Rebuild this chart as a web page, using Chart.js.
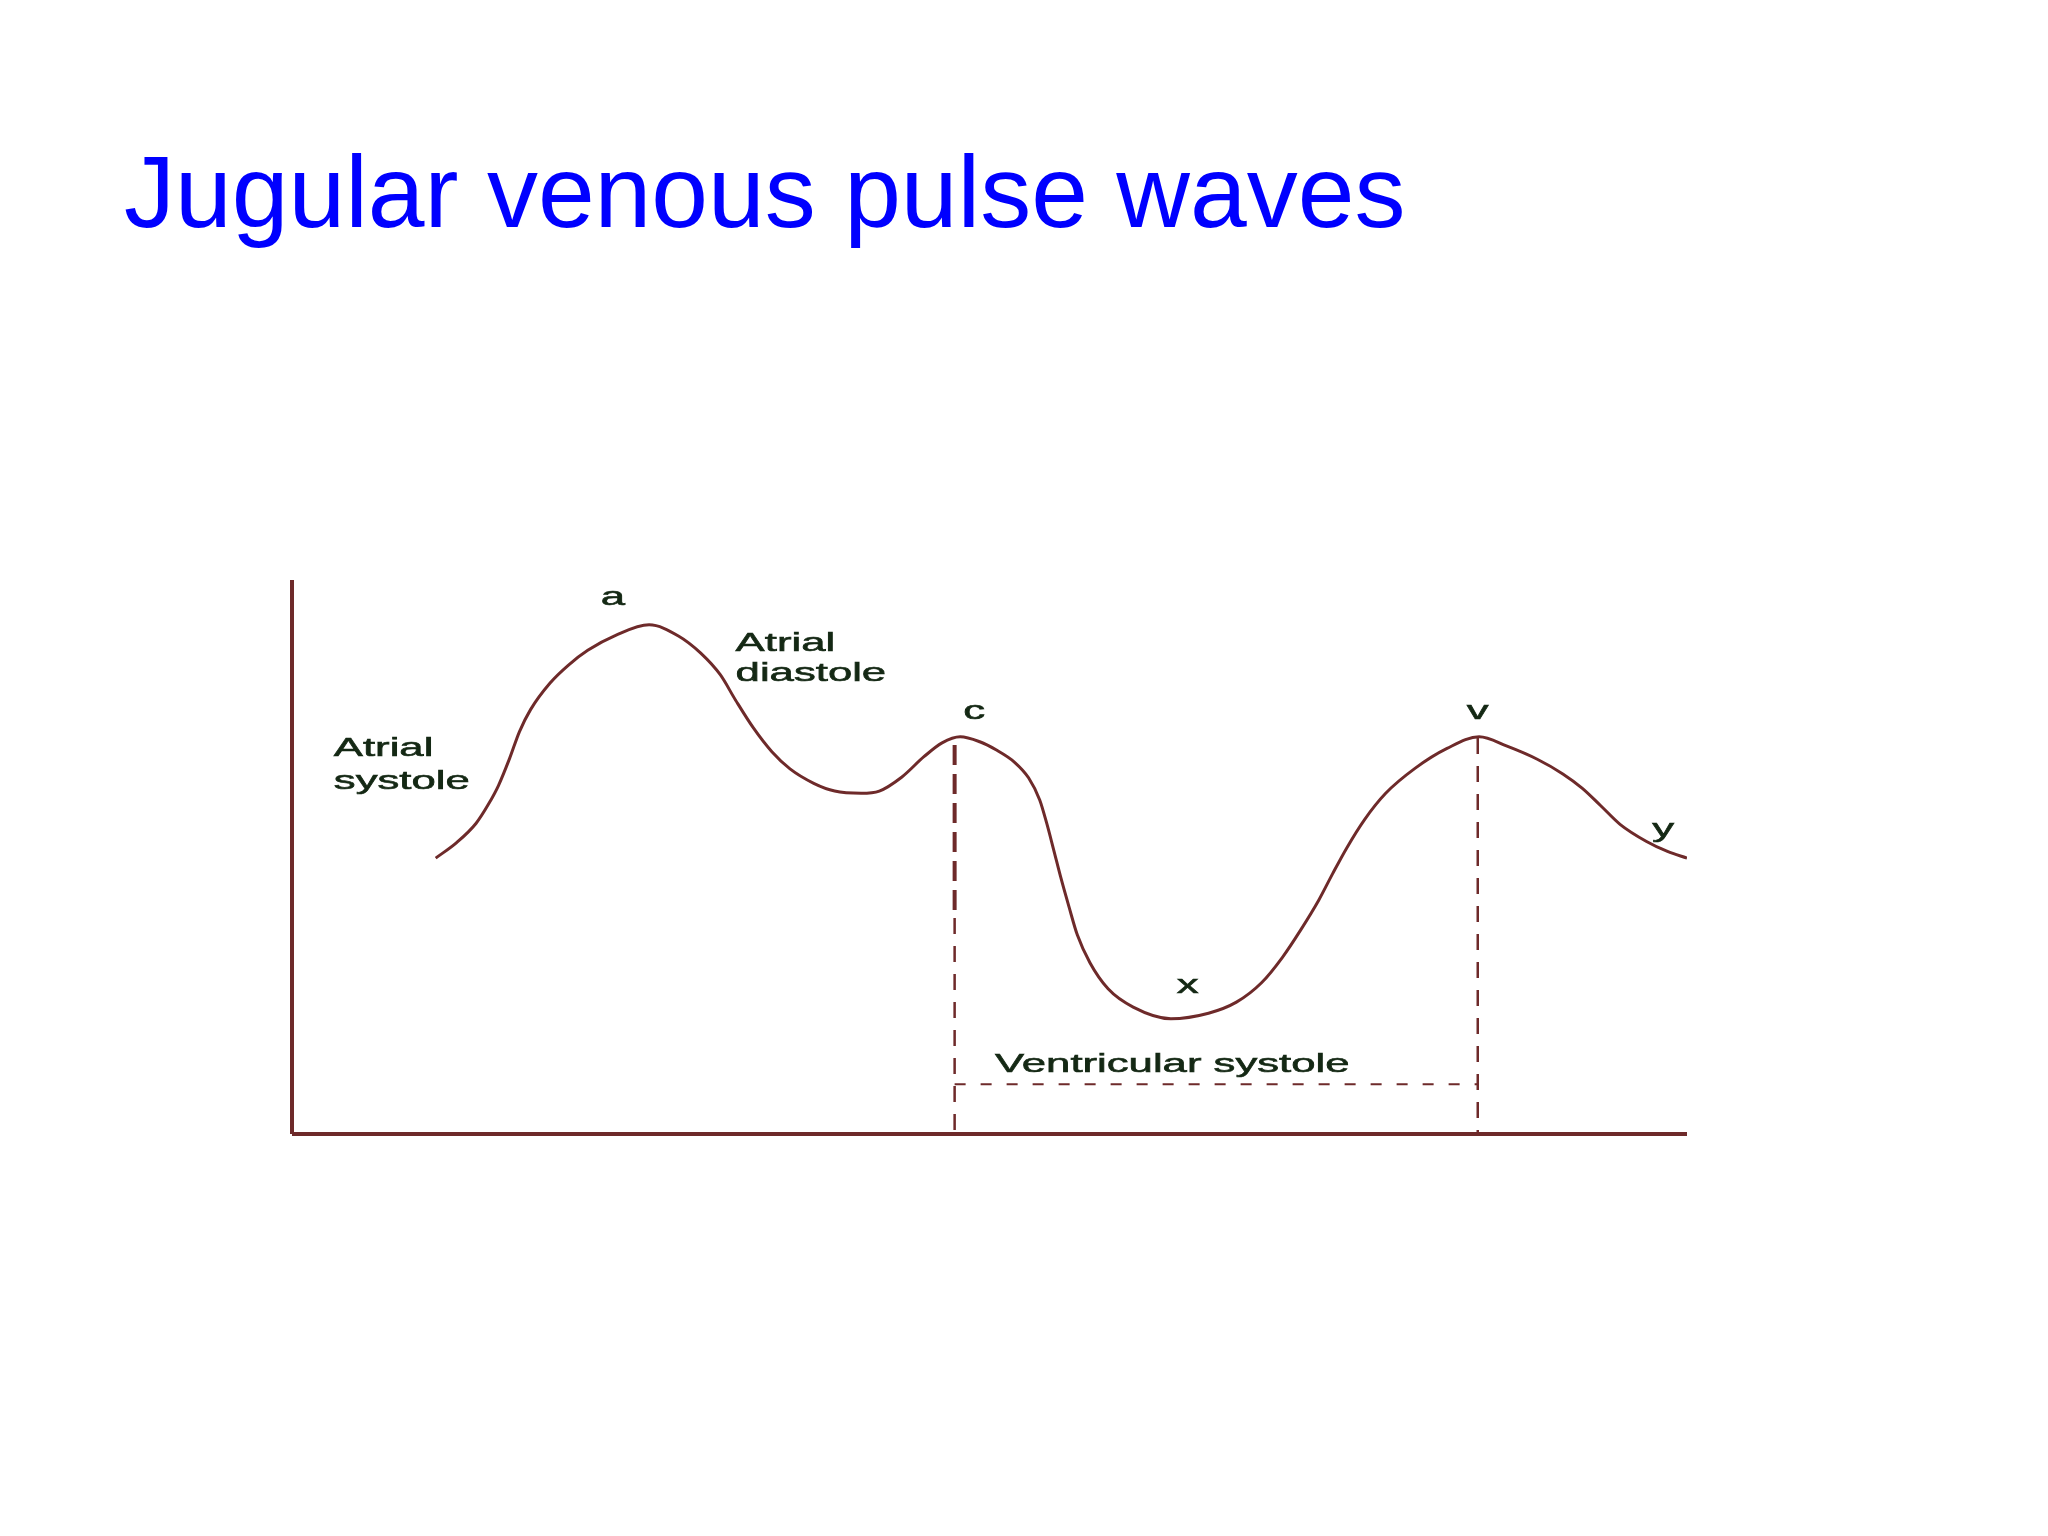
<!DOCTYPE html>
<html>
<head>
<meta charset="utf-8">
<title>Jugular venous pulse waves</title>
<script src="https://cdn.jsdelivr.net/npm/chart.js@4.4.1/dist/chart.umd.min.js"></script>
<style>
    html, body { margin: 0; padding: 0; background: #ffffff; }
    #wrap { position: relative; width: 2048px; height: 1536px; }
    #title {
        position: absolute; left: 124px; top: 141px; margin: 0;
        font-family: 'Liberation Sans', Arial, sans-serif; font-weight: normal;
        font-size: 102px; line-height: 102px; color: #0000ff; white-space: nowrap;
    }
</style>
</head>
<body>
<div id="wrap">
    <h1 id="title">Jugular venous pulse waves</h1>
    <canvas id="jvpChart"></canvas>
</div>
<script>
// wave trace (time 0-100, pressure 0-100)
const waveX = [10.3, 11.8, 13.2, 14.1, 14.8, 15.6, 16.3, 17.1, 18.5, 19.8, 21.2, 23.2, 25.6, 27.7, 29.3,
    30.7, 31.8, 33.1, 34.4, 35.7, 37.4, 38.9, 40.8, 42.1, 43.7, 45.3, 46.6, 47.9, 49.3, 50.5,
    51.8, 52.8, 53.6, 54.1, 54.6, 55.1, 55.7, 56.3, 57.2, 58.5, 60.3, 63.0, 65.7, 67.7, 69.5,
    71.0, 72.3, 73.6, 74.6, 75.6, 76.9, 78.4, 80.5, 82.8, 85.1, 87.1, 89.3, 91.1, 92.5, 93.8,
    95.2, 97.1, 98.6, 100];
const waveY = [49.8, 52.6, 56.1, 59.6, 62.9, 67.8, 72.6, 76.6, 81.4, 84.6, 87.3, 90.0, 91.9, 89.9, 86.8,
    82.9, 78.3, 73.2, 69.0, 65.9, 63.3, 61.9, 61.5, 61.9, 64.4, 68.1, 70.6, 71.7, 70.8, 69.3,
    67.1, 64.3, 60.3, 56.1, 51.3, 46.4, 41.0, 35.9, 30.9, 26.2, 22.9, 20.8, 21.8, 23.8, 27.3,
    31.9, 36.8, 42.2, 47.0, 51.6, 56.8, 61.5, 66.0, 69.6, 71.7, 70.0, 67.6, 65.0, 62.4, 59.3,
    55.9, 52.8, 51.0, 49.8];

// ventricular systole: start (c) and end (v) times
const systoleStart = 47.5;
const systoleEnd = 85.0;
const systoleTopC = 70.2;
const systoleMidC = 39.0;
const systoleTopV = 71.5;
const systoleBarY = 9.0;

// annotation labels
const labelText = ['a', 'Atrial', 'diastole', 'Atrial', 'systole', 'c', 'v', 'x', 'y', 'Ventricular systole'];
const labelX = [23.0, 31.8, 31.8, 3.0, 3.0, 48.9, 85.0, 64.2, 98.3, 50.4];
const labelY = [96.8, 88.4, 83.0, 69.5, 63.5, 76.2, 76.2, 26.7, 54.9, 12.5];
const labelAlign = ['center', 'left', 'left', 'left', 'left', 'center', 'center', 'center', 'center', 'left'];

const lineColor = '#6e2a2a';
const textColor = '#142814';

const toPoints = (xs, ys) => xs.map((x, i) => ({ x: x, y: ys[i] }));

const labelPlugin = {
    id: 'waveLabels',
    afterDatasetsDraw(chart) {
        const ctx = chart.ctx;
        const xs = chart.scales.x;
        const ys = chart.scales.y;
        ctx.save();
        ctx.fillStyle = textColor;
        ctx.strokeStyle = textColor;
        ctx.lineWidth = 0.6;
        ctx.font = '26px "Liberation Sans", Arial, sans-serif';
        ctx.textBaseline = 'middle';
        labelText.forEach((t, i) => {
            ctx.save();
            ctx.translate(xs.getPixelForValue(labelX[i]), ys.getPixelForValue(labelY[i]));
            ctx.scale(1.68, 1);
            ctx.textAlign = labelAlign[i];
            ctx.fillText(t, 0, 0);
            ctx.strokeText(t, 0, 0);
            ctx.restore();
        });
        ctx.restore();
    }
};

const ctx = document.getElementById('jvpChart').getContext('2d');
window.jvpChart = new Chart(ctx, {
    type: 'line',
    data: {
        datasets: [
            {
                label: 'y axis',
                data: toPoints([0, 0], [0, 100]),
                borderColor: lineColor,
                borderWidth: 4,
                pointRadius: 0,
                clip: false
            },
            {
                label: 'x axis',
                data: toPoints([0, 100], [0, 0]),
                borderColor: lineColor,
                borderWidth: 4,
                pointRadius: 0,
                clip: false
            },
            {
                label: 'c marker (upper)',
                data: toPoints([systoleStart, systoleStart], [systoleTopC, systoleMidC]),
                borderColor: lineColor,
                borderWidth: 4,
                borderDash: [20, 9],
                pointRadius: 0
            },
            {
                label: 'c marker (lower)',
                data: toPoints([systoleStart, systoleStart], [systoleMidC, 0]),
                borderColor: lineColor,
                borderWidth: 2.5,
                borderDash: [16, 12],
                pointRadius: 0
            },
            {
                label: 'v marker',
                data: toPoints([systoleEnd, systoleEnd], [systoleTopV, 0]),
                borderColor: lineColor,
                borderWidth: 2.5,
                borderDash: [16, 12],
                pointRadius: 0
            },
            {
                label: 'Ventricular systole',
                data: toPoints([systoleStart, systoleEnd], [systoleBarY, systoleBarY]),
                borderColor: lineColor,
                borderWidth: 2,
                borderDash: [11, 15],
                pointRadius: 0
            },
            {
                label: 'Jugular venous pulse',
                data: toPoints(waveX, waveY),
                borderColor: lineColor,
                borderWidth: 3,
                borderJoinStyle: 'round',
                pointRadius: 0,
                cubicInterpolationMode: 'monotone',
                fill: false
            }
        ]
    },
    options: {
        responsive: true,
        maintainAspectRatio: false,
        animation: false,
        layout: { padding: { left: 292, right: 361, top: 580, bottom: 402 } },
        plugins: {
            legend: { display: false },
            tooltip: { enabled: false },
            title: { display: false }
        },
        scales: {
            x: { type: 'linear', min: 0, max: 100, display: false },
            y: { type: 'linear', min: 0, max: 100, display: false }
        }
    },
    plugins: [labelPlugin]
});
</script>
</body>
</html>
